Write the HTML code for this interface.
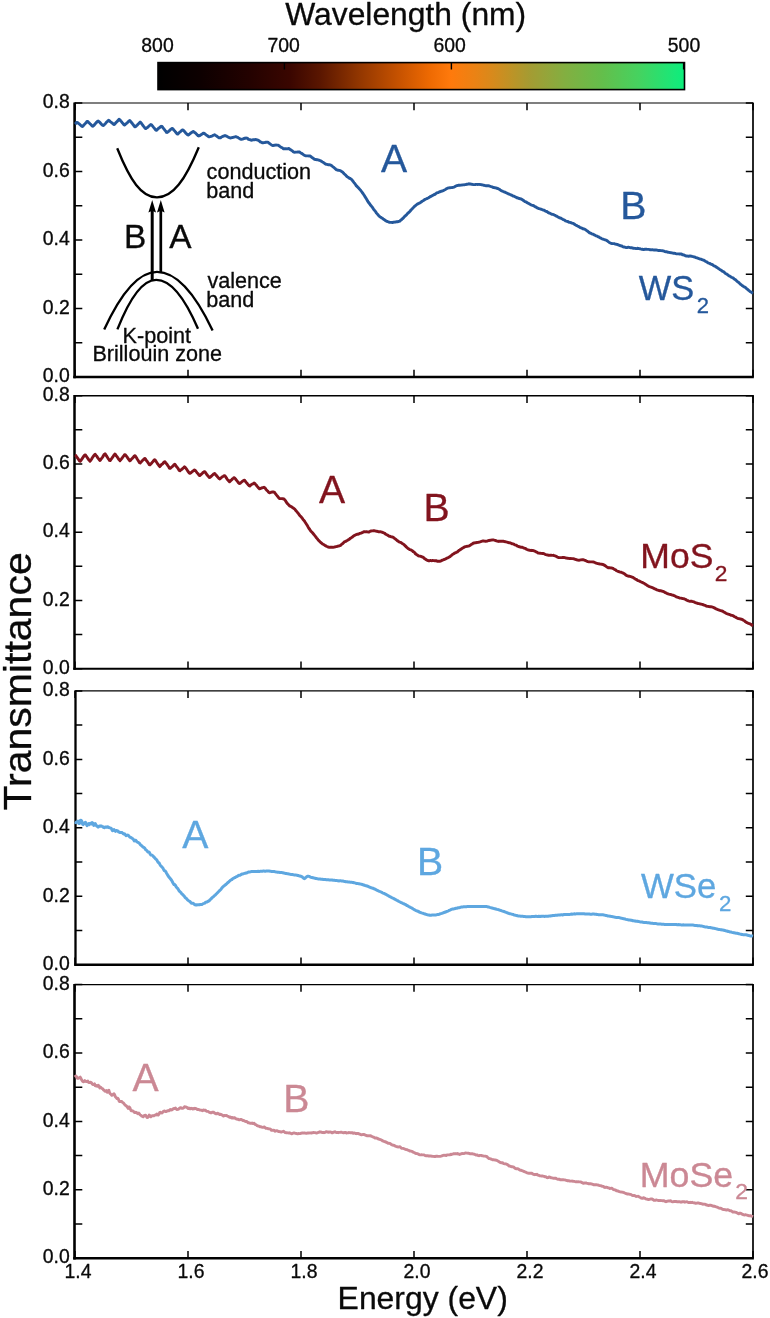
<!DOCTYPE html>
<html lang="en">
<head>
<meta charset="utf-8">
<title>Transmittance spectra of WS2, MoS2, WSe2 and MoSe2</title>
<style>
html,body{margin:0;padding:0;background:#fff;}
body{width:770px;height:1318px;overflow:hidden;font-family:"Liberation Sans", Arial, Helvetica, sans-serif;}
svg{display:block;}
</style>
</head>
<body>
<svg width="770" height="1318" viewBox="0 0 770 1318" font-family='"Liberation Sans", Arial, Helvetica, sans-serif' fill="#0a0a0a">
<style>text{stroke:#0a0a0a;stroke-width:0.32px;stroke-linejoin:round}</style>
<defs><linearGradient id="wl" x1="0" x2="1" y1="0" y2="0">
<stop offset="0.0000" stop-color="#000000"/>
<stop offset="0.0798" stop-color="#0d0000"/>
<stop offset="0.1747" stop-color="#240200"/>
<stop offset="0.2507" stop-color="#3a0600"/>
<stop offset="0.3077" stop-color="#5a1600"/>
<stop offset="0.3837" stop-color="#933700"/>
<stop offset="0.4596" stop-color="#c85300"/>
<stop offset="0.5166" stop-color="#ee6a02"/>
<stop offset="0.5565" stop-color="#ff7a0c"/>
<stop offset="0.6011" stop-color="#eb8214"/>
<stop offset="0.6357" stop-color="#d78a1c"/>
<stop offset="0.6705" stop-color="#be9326"/>
<stop offset="0.7047" stop-color="#a59b32"/>
<stop offset="0.7388" stop-color="#94a53a"/>
<stop offset="0.7740" stop-color="#82af41"/>
<stop offset="0.8429" stop-color="#64be4b"/>
<stop offset="0.9117" stop-color="#46d25f"/>
<stop offset="0.9810" stop-color="#19e878"/>
<stop offset="1.0000" stop-color="#0cee7c"/>
</linearGradient></defs>
<rect width="770" height="1318" fill="#ffffff"/>
<text x="405.7" y="24.6" font-size="31.8" text-anchor="middle">Wavelength (nm)</text>
<rect x="158" y="62.6" width="526.5" height="27" fill="url(#wl)" stroke="#000" stroke-width="1.6"/>
<line x1="159.2" y1="62.6" x2="159.2" y2="69.5" stroke="#000" stroke-width="1.4"/>
<line x1="284.4" y1="62.6" x2="284.4" y2="69.5" stroke="#000" stroke-width="1.4"/>
<line x1="451.4" y1="62.6" x2="451.4" y2="69.5" stroke="#000" stroke-width="1.4"/>
<line x1="683.6" y1="62.6" x2="683.6" y2="69.5" stroke="#000" stroke-width="1.4"/>
<text x="157.5" y="51.8" font-size="19.4" text-anchor="middle">800</text>
<text x="283.6" y="51.8" font-size="19.4" text-anchor="middle">700</text>
<text x="449.6" y="51.8" font-size="19.4" text-anchor="middle">600</text>
<text x="684.0" y="51.8" font-size="19.4" text-anchor="middle">500</text>
<g stroke="#000" fill="none">
<line x1="753.0" y1="103.0" x2="753.0" y2="377.0" stroke-width="1.7"/>
<line x1="74.6" y1="103.0" x2="753.85" y2="103.0" stroke-width="1.15"/>
<line x1="74.6" y1="102.425" x2="74.6" y2="378.15" stroke-width="2.6"/>
<line x1="73.3" y1="377.0" x2="753.85" y2="377.0" stroke-width="2.3"/>
<path d="M74.6,377.0H82.3 M753.0,377.0h-7.2 M74.6,342.8H82.3 M753.0,342.8h-7.2 M74.6,308.5H82.3 M753.0,308.5h-7.2 M74.6,274.2H82.3 M753.0,274.2h-7.2 M74.6,240.0H82.3 M753.0,240.0h-7.2 M74.6,205.8H82.3 M753.0,205.8h-7.2 M74.6,171.5H82.3 M753.0,171.5h-7.2 M74.6,137.2H82.3 M753.0,137.2h-7.2 M74.6,103.0H82.3 M753.0,103.0h-7.2 M75.0,103.0v7.2 M75.0,377.0v-7.2 M188.0,103.0v7.2 M188.0,377.0v-7.2 M301.0,103.0v7.2 M301.0,377.0v-7.2 M414.0,103.0v7.2 M414.0,377.0v-7.2 M527.0,103.0v7.2 M527.0,377.0v-7.2 M640.0,103.0v7.2 M640.0,377.0v-7.2 M753.0,103.0v7.2 M753.0,377.0v-7.2" stroke-width="1.5"/>
</g>
<text x="69.7" y="382.2" font-size="19.4" text-anchor="end">0.0</text>
<text x="69.7" y="313.7" font-size="19.4" text-anchor="end">0.2</text>
<text x="69.7" y="245.2" font-size="19.4" text-anchor="end">0.4</text>
<text x="69.7" y="176.7" font-size="19.4" text-anchor="end">0.6</text>
<text x="69.7" y="108.2" font-size="19.4" text-anchor="end">0.8</text>
<g stroke="#000" fill="none">
<line x1="753.0" y1="395.7" x2="753.0" y2="668.7" stroke-width="1.7"/>
<line x1="74.5" y1="395.7" x2="753.85" y2="395.7" stroke-width="1.6"/>
<line x1="74.5" y1="394.9" x2="74.5" y2="669.6500000000001" stroke-width="2.5"/>
<line x1="73.25" y1="668.7" x2="753.85" y2="668.7" stroke-width="1.9"/>
<path d="M74.5,668.7H82.3 M753.0,668.7h-7.2 M74.5,634.6H82.3 M753.0,634.6h-7.2 M74.5,600.5H82.3 M753.0,600.5h-7.2 M74.5,566.3H82.3 M753.0,566.3h-7.2 M74.5,532.2H82.3 M753.0,532.2h-7.2 M74.5,498.1H82.3 M753.0,498.1h-7.2 M74.5,463.9H82.3 M753.0,463.9h-7.2 M74.5,429.8H82.3 M753.0,429.8h-7.2 M74.5,395.7H82.3 M753.0,395.7h-7.2 M75.0,395.7v7.2 M75.0,668.7v-7.2 M188.0,395.7v7.2 M188.0,668.7v-7.2 M301.0,395.7v7.2 M301.0,668.7v-7.2 M414.0,395.7v7.2 M414.0,668.7v-7.2 M527.0,395.7v7.2 M527.0,668.7v-7.2 M640.0,395.7v7.2 M640.0,668.7v-7.2 M753.0,395.7v7.2 M753.0,668.7v-7.2" stroke-width="1.5"/>
</g>
<text x="69.7" y="673.9" font-size="19.4" text-anchor="end">0.0</text>
<text x="69.7" y="605.7" font-size="19.4" text-anchor="end">0.2</text>
<text x="69.7" y="537.4" font-size="19.4" text-anchor="end">0.4</text>
<text x="69.7" y="469.1" font-size="19.4" text-anchor="end">0.6</text>
<text x="69.7" y="400.9" font-size="19.4" text-anchor="end">0.8</text>
<g stroke="#000" fill="none">
<line x1="753.0" y1="690.9" x2="753.0" y2="964.7" stroke-width="1.7"/>
<line x1="75.5" y1="690.9" x2="753.85" y2="690.9" stroke-width="1.4"/>
<line x1="75.5" y1="690.1999999999999" x2="75.5" y2="965.9000000000001" stroke-width="2.3"/>
<line x1="74.35" y1="964.7" x2="753.85" y2="964.7" stroke-width="2.4"/>
<path d="M75.5,964.7H82.3 M753.0,964.7h-7.2 M75.5,930.5H82.3 M753.0,930.5h-7.2 M75.5,896.2H82.3 M753.0,896.2h-7.2 M75.5,862.0H82.3 M753.0,862.0h-7.2 M75.5,827.8H82.3 M753.0,827.8h-7.2 M75.5,793.6H82.3 M753.0,793.6h-7.2 M75.5,759.4H82.3 M753.0,759.4h-7.2 M75.5,725.1H82.3 M753.0,725.1h-7.2 M75.5,690.9H82.3 M753.0,690.9h-7.2 M75.0,690.9v7.2 M75.0,964.7v-7.2 M188.0,690.9v7.2 M188.0,964.7v-7.2 M301.0,690.9v7.2 M301.0,964.7v-7.2 M414.0,690.9v7.2 M414.0,964.7v-7.2 M527.0,690.9v7.2 M527.0,964.7v-7.2 M640.0,690.9v7.2 M640.0,964.7v-7.2 M753.0,690.9v7.2 M753.0,964.7v-7.2" stroke-width="1.5"/>
</g>
<text x="69.7" y="969.9" font-size="19.4" text-anchor="end">0.0</text>
<text x="69.7" y="901.5" font-size="19.4" text-anchor="end">0.2</text>
<text x="69.7" y="833.0" font-size="19.4" text-anchor="end">0.4</text>
<text x="69.7" y="764.6" font-size="19.4" text-anchor="end">0.6</text>
<text x="69.7" y="696.1" font-size="19.4" text-anchor="end">0.8</text>
<g stroke="#000" fill="none">
<line x1="753.0" y1="984.6" x2="753.0" y2="1258.2" stroke-width="1.7"/>
<line x1="74.5" y1="984.6" x2="753.85" y2="984.6" stroke-width="1.1"/>
<line x1="74.5" y1="984.0500000000001" x2="74.5" y2="1259.4" stroke-width="2.6"/>
<line x1="73.2" y1="1258.2" x2="753.85" y2="1258.2" stroke-width="2.4"/>
<path d="M74.5,1258.2H82.3 M753.0,1258.2h-7.2 M74.5,1224.0H82.3 M753.0,1224.0h-7.2 M74.5,1189.8H82.3 M753.0,1189.8h-7.2 M74.5,1155.6H82.3 M753.0,1155.6h-7.2 M74.5,1121.4H82.3 M753.0,1121.4h-7.2 M74.5,1087.2H82.3 M753.0,1087.2h-7.2 M74.5,1053.0H82.3 M753.0,1053.0h-7.2 M74.5,1018.8H82.3 M753.0,1018.8h-7.2 M74.5,984.6H82.3 M753.0,984.6h-7.2 M75.0,984.6v7.2 M75.0,1258.2v-7.2 M188.0,984.6v7.2 M188.0,1258.2v-7.2 M301.0,984.6v7.2 M301.0,1258.2v-7.2 M414.0,984.6v7.2 M414.0,1258.2v-7.2 M527.0,984.6v7.2 M527.0,1258.2v-7.2 M640.0,984.6v7.2 M640.0,1258.2v-7.2 M753.0,984.6v7.2 M753.0,1258.2v-7.2" stroke-width="1.5"/>
</g>
<text x="69.7" y="1263.4" font-size="19.4" text-anchor="end">0.0</text>
<text x="69.7" y="1195.0" font-size="19.4" text-anchor="end">0.2</text>
<text x="69.7" y="1126.6" font-size="19.4" text-anchor="end">0.4</text>
<text x="69.7" y="1058.2" font-size="19.4" text-anchor="end">0.6</text>
<text x="69.7" y="989.8" font-size="19.4" text-anchor="end">0.8</text>
<text x="78.0" y="1278.2" font-size="19.4" text-anchor="middle">1.4</text>
<text x="191.0" y="1278.2" font-size="19.4" text-anchor="middle">1.6</text>
<text x="304.0" y="1278.2" font-size="19.4" text-anchor="middle">1.8</text>
<text x="417.0" y="1278.2" font-size="19.4" text-anchor="middle">2.0</text>
<text x="530.0" y="1278.2" font-size="19.4" text-anchor="middle">2.2</text>
<text x="643.0" y="1278.2" font-size="19.4" text-anchor="middle">2.4</text>
<text x="755.0" y="1278.2" font-size="19.4" text-anchor="middle">2.6</text>
<text x="422.7" y="1309.4" font-size="31.9" text-anchor="middle">Energy (eV)</text>
<text transform="translate(30.8 681.4) rotate(-90) scale(1.02 0.985)" font-size="40.2" text-anchor="middle">Transmittance</text>
<path d="M75.0,124.1 L75.8,123.4 L76.5,122.4 L77.2,122.4 L78.0,123.0 L78.8,123.6 L79.5,124.2 L80.2,124.8 L81.0,125.5 L81.8,126.4 L82.5,126.5 L83.2,125.7 L84.0,124.9 L84.8,124.0 L85.5,123.3 L86.2,122.5 L87.0,121.5 L87.8,121.4 L88.5,122.3 L89.2,122.9 L90.0,123.8 L90.8,124.4 L91.5,125.2 L92.2,126.1 L93.0,126.2 L93.8,125.5 L94.5,124.6 L95.2,123.9 L96.0,122.9 L96.8,122.1 L97.5,121.3 L98.2,121.0 L99.0,121.7 L99.8,122.4 L100.5,123.1 L101.2,124.0 L102.0,124.6 L102.8,125.4 L103.5,125.5 L104.2,124.8 L105.0,124.0 L105.8,123.1 L106.5,122.1 L107.2,121.6 L108.0,120.8 L108.8,120.3 L109.5,120.9 L110.2,121.6 L111.0,122.2 L111.8,122.8 L112.5,123.3 L113.2,124.1 L114.0,124.6 L114.8,124.0 L115.5,123.1 L116.2,122.4 L117.0,121.7 L117.8,120.8 L118.5,119.8 L119.2,119.2 L120.0,120.0 L120.8,121.0 L121.5,121.7 L122.2,122.7 L123.0,123.5 L123.8,124.5 L124.5,125.0 L125.2,124.5 L126.0,123.8 L126.8,123.2 L127.5,122.5 L128.2,121.7 L129.0,121.1 L129.8,120.6 L130.5,121.3 L131.2,122.3 L132.0,123.1 L132.8,124.2 L133.5,125.0 L134.2,126.1 L135.0,126.8 L135.8,126.5 L136.5,125.7 L137.2,125.1 L138.0,124.3 L138.8,123.5 L139.5,122.8 L140.2,122.1 L141.0,122.7 L141.8,123.9 L142.5,124.8 L143.2,125.9 L144.0,126.8 L144.8,127.8 L145.5,128.6 L146.2,128.3 L147.0,127.7 L147.8,127.2 L148.5,126.5 L149.2,125.8 L150.0,125.2 L150.8,124.5 L151.5,124.8 L152.2,125.6 L153.0,126.6 L153.8,127.6 L154.5,128.4 L155.2,129.4 L156.0,130.2 L156.8,130.2 L157.5,129.3 L158.2,128.7 L159.0,127.9 L159.8,127.4 L160.5,126.7 L161.2,126.3 L162.0,126.5 L162.8,127.5 L163.5,128.5 L164.2,129.2 L165.0,130.4 L165.8,131.3 L166.5,132.4 L167.2,132.5 L168.0,131.8 L168.8,131.3 L169.5,130.6 L170.2,129.8 L171.0,129.3 L171.8,128.5 L172.5,128.5 L173.2,129.3 L174.0,130.2 L174.8,131.0 L175.5,132.0 L176.2,132.8 L177.0,133.8 L177.8,134.1 L178.5,133.3 L179.2,132.7 L180.0,132.0 L180.8,131.3 L181.5,130.7 L182.2,129.9 L183.0,130.0 L183.8,130.7 L184.5,131.5 L185.2,132.3 L186.0,133.4 L186.8,134.0 L187.5,134.7 L188.2,135.1 L189.0,134.5 L189.8,133.9 L190.5,133.2 L191.2,132.7 L192.0,132.2 L192.8,131.7 L193.5,131.5 L194.2,132.1 L195.0,132.8 L195.8,133.3 L196.5,134.2 L197.2,134.8 L198.0,135.6 L198.8,136.0 L199.5,135.7 L200.2,135.2 L201.0,134.7 L201.8,134.2 L202.5,133.8 L203.2,133.3 L204.0,133.2 L204.8,133.7 L205.5,134.4 L206.2,134.9 L207.0,135.4 L207.8,136.0 L208.5,136.6 L209.2,136.9 L210.0,136.7 L210.8,136.4 L211.5,136.3 L212.2,135.9 L213.0,135.4 L213.8,135.2 L214.5,134.8 L215.2,135.1 L216.0,135.7 L216.8,136.1 L217.5,136.8 L218.2,137.2 L219.0,137.7 L219.8,137.8 L220.5,137.7 L221.2,137.2 L222.0,136.8 L222.8,136.4 L223.5,136.1 L224.2,135.8 L225.0,135.5 L225.8,135.8 L226.5,136.2 L227.2,136.5 L228.0,137.0 L228.8,137.4 L229.5,137.7 L230.2,138.0 L231.0,137.9 L231.8,137.6 L232.5,137.5 L233.2,137.4 L234.0,137.1 L234.8,136.9 L235.5,136.7 L236.2,136.7 L237.0,137.1 L237.8,137.4 L238.5,137.9 L239.2,138.3 L240.0,138.9 L240.8,139.3 L241.5,139.4 L242.2,139.2 L243.0,139.0 L243.8,138.7 L244.5,138.2 L245.2,138.3 L246.0,138.0 L246.8,138.1 L247.5,138.4 L248.2,139.1 L249.0,139.5 L249.8,139.6 L250.5,139.9 L251.2,140.2 L252.0,140.1 L252.8,139.7 L253.5,139.7 L254.2,139.8 L255.0,139.6 L255.8,139.5 L256.5,139.8 L257.2,139.9 L258.0,140.2 L258.8,140.6 L259.5,141.2 L260.2,141.8 L261.0,142.1 L261.8,142.6 L262.5,142.8 L263.2,142.7 L264.0,142.6 L264.8,142.5 L265.5,142.3 L266.2,142.2 L267.0,142.1 L267.8,142.1 L268.5,142.7 L269.2,143.2 L270.0,143.8 L270.8,144.4 L271.5,144.9 L272.2,145.3 L273.0,145.5 L273.8,145.3 L274.5,145.3 L275.2,145.1 L276.0,145.0 L276.8,145.1 L277.5,145.1 L278.2,145.2 L279.0,145.7 L279.8,146.4 L280.5,146.9 L281.2,147.4 L282.0,147.6 L282.8,148.2 L283.5,148.7 L284.2,148.7 L285.0,148.8 L285.8,148.8 L286.5,148.9 L287.2,148.8 L288.0,148.6 L288.8,148.5 L289.5,149.0 L290.2,149.6 L291.0,150.1 L291.8,150.6 L292.5,151.0 L293.2,151.7 L294.0,152.1 L294.8,152.2 L295.5,152.1 L296.2,152.1 L297.0,152.1 L297.8,152.0 L298.5,151.9 L299.2,151.9 L300.0,152.3 L300.8,153.0 L301.5,153.3 L302.2,153.8 L303.0,154.3 L303.8,154.9 L304.5,155.4 L305.2,155.6 L306.0,155.9 L306.8,155.9 L307.5,155.9 L308.2,155.9 L309.0,156.0 L309.8,155.9 L310.5,156.1 L311.2,156.9 L312.0,157.5 L312.8,158.0 L313.5,158.5 L314.2,159.1 L315.0,159.5 L315.8,159.5 L316.5,159.7 L317.2,159.7 L318.0,159.9 L318.8,160.1 L319.5,160.4 L320.2,160.6 L321.0,161.0 L321.8,161.6 L322.5,162.0 L323.2,162.3 L324.0,162.9 L324.8,163.5 L325.5,164.0 L326.2,164.3 L327.0,164.4 L327.8,164.6 L328.5,164.8 L329.2,164.8 L330.0,164.9 L330.8,165.2 L331.5,165.6 L332.2,166.2 L333.0,166.8 L333.8,167.4 L334.5,168.0 L335.2,168.7 L336.0,169.4 L336.8,169.9 L337.5,170.0 L338.2,170.3 L339.0,170.4 L339.8,170.4 L340.5,170.8 L341.2,171.2 L342.0,171.8 L342.8,172.3 L343.5,173.1 L344.2,173.8 L345.0,174.5 L345.8,175.3 L346.5,176.1 L347.2,176.8 L348.0,177.2 L348.8,177.8 L349.5,178.3 L350.2,178.5 L351.0,179.1 L351.8,179.7 L352.5,180.6 L353.2,181.5 L354.0,182.6 L354.8,183.5 L355.5,184.5 L356.2,185.6 L357.0,186.4 L357.8,187.2 L358.5,187.9 L359.2,188.7 L360.0,189.6 L360.8,190.5 L361.5,191.5 L362.2,192.5 L363.0,193.5 L363.8,194.7 L364.5,195.8 L365.2,197.1 L366.0,198.2 L366.8,199.5 L367.5,200.9 L368.2,202.0 L369.0,203.0 L369.8,204.0 L370.5,205.1 L371.2,205.8 L372.0,206.8 L372.8,207.9 L373.5,209.1 L374.2,210.0 L375.0,210.9 L375.8,212.0 L376.5,213.1 L377.2,213.9 L378.0,214.8 L378.8,215.7 L379.5,216.4 L380.2,217.0 L381.0,217.4 L381.8,218.0 L382.5,218.3 L383.2,219.0 L384.0,219.5 L384.8,220.0 L385.5,220.6 L386.2,220.9 L387.0,221.4 L387.8,221.7 L388.5,221.9 L389.2,222.3 L390.0,222.4 L390.8,222.4 L391.5,222.4 L392.2,222.5 L393.0,222.3 L393.8,222.2 L394.5,222.1 L395.2,222.0 L396.0,222.0 L396.8,221.7 L397.5,221.8 L398.2,221.5 L399.0,221.3 L399.8,221.1 L400.5,220.4 L401.2,219.9 L402.0,219.1 L402.8,218.6 L403.5,217.8 L404.2,216.9 L405.0,216.2 L405.8,215.4 L406.5,214.8 L407.2,213.9 L408.0,213.2 L408.8,212.4 L409.5,211.8 L410.2,211.0 L411.0,210.0 L411.8,209.2 L412.5,208.5 L413.2,207.8 L414.0,206.9 L414.8,206.2 L415.5,205.6 L416.2,205.0 L417.0,204.3 L417.8,203.9 L418.5,203.6 L419.2,203.1 L420.0,202.8 L420.8,202.3 L421.5,201.8 L422.2,201.2 L423.0,200.8 L423.8,200.3 L424.5,199.8 L425.2,199.3 L426.0,199.0 L426.8,198.7 L427.5,198.3 L428.2,197.9 L429.0,197.4 L429.8,197.0 L430.5,196.5 L431.2,196.3 L432.0,195.8 L432.8,195.4 L433.5,194.9 L434.2,194.5 L435.0,194.3 L435.8,193.6 L436.5,193.1 L437.2,192.7 L438.0,192.6 L438.8,192.2 L439.5,191.8 L440.2,191.7 L441.0,191.3 L441.8,191.2 L442.5,190.9 L443.2,190.6 L444.0,190.2 L444.8,189.8 L445.5,189.4 L446.2,188.9 L447.0,188.5 L447.8,188.1 L448.5,187.9 L449.2,187.9 L450.0,187.7 L450.8,187.6 L451.5,187.6 L452.2,187.5 L453.0,187.4 L453.8,187.1 L454.5,186.8 L455.2,186.4 L456.0,186.0 L456.8,185.6 L457.5,185.5 L458.2,185.3 L459.0,185.3 L459.8,185.3 L460.5,185.1 L461.2,185.1 L462.0,185.0 L462.8,184.9 L463.5,184.9 L464.2,184.8 L465.0,184.6 L465.8,184.5 L466.5,184.3 L467.2,184.2 L468.0,184.1 L468.8,183.8 L469.5,183.9 L470.2,184.0 L471.0,184.2 L471.8,184.3 L472.5,184.4 L473.2,184.6 L474.0,184.6 L474.8,184.6 L475.5,184.5 L476.2,184.4 L477.0,184.4 L477.8,184.5 L478.5,184.4 L479.2,184.4 L480.0,184.5 L480.8,184.6 L481.5,184.7 L482.2,184.9 L483.0,185.0 L483.8,185.3 L484.5,185.4 L485.2,185.6 L486.0,185.7 L486.8,185.7 L487.5,185.8 L488.2,185.7 L489.0,185.9 L489.8,186.2 L490.5,186.4 L491.2,186.6 L492.0,186.8 L492.8,187.3 L493.5,187.5 L494.2,187.5 L495.0,187.8 L495.8,187.9 L496.5,188.2 L497.2,188.3 L498.0,188.6 L498.8,189.1 L499.5,189.3 L500.2,189.9 L501.0,190.5 L501.8,190.9 L502.5,191.2 L503.2,191.5 L504.0,191.8 L504.8,192.1 L505.5,192.4 L506.2,192.8 L507.0,193.2 L507.8,193.5 L508.5,193.9 L509.2,194.2 L510.0,194.5 L510.8,194.8 L511.5,195.1 L512.2,195.5 L513.0,196.0 L513.8,196.2 L514.5,196.5 L515.2,196.8 L516.0,197.2 L516.8,197.7 L517.5,197.8 L518.2,198.1 L519.0,198.5 L519.8,198.7 L520.5,198.8 L521.2,199.0 L522.0,199.5 L522.8,200.0 L523.5,200.5 L524.2,201.0 L525.0,201.7 L525.8,201.9 L526.5,202.2 L527.2,202.7 L528.0,203.1 L528.8,203.5 L529.5,203.9 L530.2,204.4 L531.0,204.8 L531.8,205.1 L532.5,205.3 L533.2,205.5 L534.0,205.9 L534.8,206.5 L535.5,206.9 L536.2,207.2 L537.0,207.7 L537.8,208.2 L538.5,208.5 L539.2,208.7 L540.0,208.9 L540.8,209.1 L541.5,209.4 L542.2,209.6 L543.0,210.0 L543.8,210.1 L544.5,210.5 L545.2,211.0 L546.0,211.3 L546.8,211.5 L547.5,212.0 L548.2,212.6 L549.0,213.0 L549.8,213.2 L550.5,213.6 L551.2,214.0 L552.0,214.3 L552.8,214.4 L553.5,214.6 L554.2,215.0 L555.0,215.3 L555.8,215.8 L556.5,216.1 L557.2,216.5 L558.0,217.0 L558.8,217.4 L559.5,217.9 L560.2,218.0 L561.0,218.2 L561.8,218.7 L562.5,219.1 L563.2,219.6 L564.0,219.8 L564.8,220.2 L565.5,220.9 L566.2,221.1 L567.0,221.3 L567.8,221.5 L568.5,222.0 L569.2,222.3 L570.0,222.4 L570.8,222.6 L571.5,223.0 L572.2,223.2 L573.0,223.4 L573.8,223.8 L574.5,224.3 L575.2,224.8 L576.0,225.2 L576.8,225.6 L577.5,226.0 L578.2,226.3 L579.0,226.8 L579.8,227.3 L580.5,227.6 L581.2,227.9 L582.0,228.2 L582.8,228.7 L583.5,228.8 L584.2,229.0 L585.0,229.3 L585.8,229.9 L586.5,230.5 L587.2,230.9 L588.0,231.5 L588.8,232.3 L589.5,232.8 L590.2,233.0 L591.0,233.4 L591.8,233.8 L592.5,234.1 L593.2,234.2 L594.0,234.7 L594.8,235.2 L595.5,235.5 L596.2,235.9 L597.0,236.1 L597.8,236.6 L598.5,236.9 L599.2,237.2 L600.0,237.7 L600.8,238.1 L601.5,238.5 L602.2,238.8 L603.0,239.1 L603.8,239.4 L604.5,239.6 L605.2,239.9 L606.0,240.1 L606.8,240.5 L607.5,241.0 L608.2,241.6 L609.0,242.2 L609.8,242.7 L610.5,243.1 L611.2,243.3 L612.0,243.5 L612.8,243.6 L613.5,243.6 L614.2,243.6 L615.0,244.0 L615.8,244.1 L616.5,244.4 L617.2,244.5 L618.0,244.7 L618.8,245.2 L619.5,245.4 L620.2,245.7 L621.0,245.8 L621.8,246.0 L622.5,246.5 L623.2,246.8 L624.0,247.0 L624.8,247.2 L625.5,247.4 L626.2,247.6 L627.0,247.5 L627.8,247.3 L628.5,247.3 L629.2,247.4 L630.0,247.6 L630.8,247.7 L631.5,247.7 L632.2,247.9 L633.0,248.3 L633.8,248.3 L634.5,248.4 L635.2,248.4 L636.0,248.6 L636.8,248.6 L637.5,248.3 L638.2,248.4 L639.0,248.6 L639.8,248.7 L640.5,248.9 L641.2,249.1 L642.0,249.3 L642.8,249.3 L643.5,249.6 L644.2,249.5 L645.0,249.2 L645.8,249.3 L646.5,249.3 L647.2,249.4 L648.0,249.4 L648.8,249.4 L649.5,249.6 L650.2,249.8 L651.0,249.8 L651.8,249.9 L652.5,249.8 L653.2,249.9 L654.0,250.0 L654.8,250.0 L655.5,250.0 L656.2,250.0 L657.0,250.1 L657.8,250.4 L658.5,250.5 L659.2,250.5 L660.0,250.5 L660.8,250.6 L661.5,250.6 L662.2,250.7 L663.0,250.9 L663.8,251.0 L664.5,251.3 L665.2,251.6 L666.0,251.8 L666.8,251.8 L667.5,252.0 L668.2,252.3 L669.0,252.4 L669.8,252.5 L670.5,252.6 L671.2,252.8 L672.0,252.9 L672.8,253.1 L673.5,253.2 L674.2,253.3 L675.0,253.4 L675.8,253.7 L676.5,253.9 L677.2,253.9 L678.0,253.9 L678.8,253.9 L679.5,254.1 L680.2,253.9 L681.0,254.0 L681.8,254.2 L682.5,254.7 L683.2,254.8 L684.0,255.0 L684.8,255.4 L685.5,255.9 L686.2,256.0 L687.0,256.0 L687.8,256.1 L688.5,256.3 L689.2,256.2 L690.0,256.0 L690.8,256.2 L691.5,256.2 L692.2,256.4 L693.0,256.6 L693.8,256.8 L694.5,257.0 L695.2,257.2 L696.0,257.6 L696.8,257.9 L697.5,258.0 L698.2,258.3 L699.0,258.7 L699.8,259.0 L700.5,259.1 L701.2,259.2 L702.0,259.7 L702.8,260.0 L703.5,260.1 L704.2,260.4 L705.0,260.9 L705.8,261.4 L706.5,261.8 L707.2,262.3 L708.0,262.8 L708.8,263.1 L709.5,263.3 L710.2,263.8 L711.0,264.1 L711.8,264.5 L712.5,264.7 L713.2,265.3 L714.0,265.9 L714.8,266.2 L715.5,266.5 L716.2,267.0 L717.0,267.6 L717.8,268.1 L718.5,268.6 L719.2,269.0 L720.0,269.7 L720.8,270.0 L721.5,270.5 L722.2,271.1 L723.0,271.5 L723.8,271.9 L724.5,272.5 L725.2,273.3 L726.0,273.7 L726.8,274.1 L727.5,274.6 L728.2,275.3 L729.0,275.8 L729.8,276.1 L730.5,276.6 L731.2,277.1 L732.0,277.5 L732.8,277.8 L733.5,278.3 L734.2,278.9 L735.0,279.4 L735.8,280.0 L736.5,280.7 L737.2,281.4 L738.0,282.0 L738.8,282.5 L739.5,283.3 L740.2,284.0 L741.0,284.6 L741.8,285.2 L742.5,285.7 L743.2,286.3 L744.0,286.7 L744.8,287.2 L745.5,287.5 L746.2,288.3 L747.0,288.9 L747.8,289.6 L748.5,290.3 L749.2,290.7 L750.0,291.5 L750.8,291.9 L751.5,292.4 L752.2,292.9 L753.0,293.3" fill="none" stroke="#25589b" stroke-width="2.9" stroke-linejoin="round" stroke-linecap="butt"/>
<path d="M75.0,454.9 L75.8,455.4 L76.5,456.6 L77.2,457.6 L78.0,458.7 L78.8,459.8 L79.5,460.9 L80.2,461.3 L81.0,460.3 L81.8,459.2 L82.5,458.1 L83.2,457.0 L84.0,456.0 L84.8,455.0 L85.5,455.0 L86.2,456.2 L87.0,457.2 L87.8,458.4 L88.5,459.5 L89.2,460.3 L90.0,461.1 L90.8,460.3 L91.5,459.2 L92.2,458.0 L93.0,456.7 L93.8,455.8 L94.5,454.7 L95.2,454.3 L96.0,455.4 L96.8,456.3 L97.5,457.4 L98.2,458.4 L99.0,459.4 L99.8,460.5 L100.5,460.0 L101.2,459.0 L102.0,457.9 L102.8,456.8 L103.5,455.5 L104.2,454.4 L105.0,453.8 L105.8,454.7 L106.5,455.9 L107.2,457.0 L108.0,458.3 L108.8,459.3 L109.5,460.4 L110.2,460.6 L111.0,459.5 L111.8,458.4 L112.5,457.3 L113.2,456.3 L114.0,455.1 L114.8,454.1 L115.5,454.5 L116.2,455.7 L117.0,456.6 L117.8,457.8 L118.5,458.8 L119.2,459.8 L120.0,460.6 L120.8,459.7 L121.5,458.9 L122.2,458.0 L123.0,456.8 L123.8,455.9 L124.5,454.7 L125.2,454.7 L126.0,455.7 L126.8,456.7 L127.5,457.7 L128.2,458.8 L129.0,459.7 L129.8,460.8 L130.5,460.3 L131.2,459.3 L132.0,458.7 L132.8,457.8 L133.5,457.1 L134.2,456.0 L135.0,455.7 L135.8,456.7 L136.5,457.8 L137.2,459.0 L138.0,460.2 L138.8,461.5 L139.5,462.7 L140.2,463.0 L141.0,462.1 L141.8,461.2 L142.5,460.5 L143.2,459.8 L144.0,459.1 L144.8,458.4 L145.5,459.1 L146.2,460.3 L147.0,461.2 L147.8,462.3 L148.5,463.3 L149.2,464.6 L150.0,464.9 L150.8,464.0 L151.5,463.3 L152.2,462.4 L153.0,461.5 L153.8,460.5 L154.5,459.7 L155.2,460.1 L156.0,461.4 L156.8,462.5 L157.5,463.6 L158.2,464.5 L159.0,465.7 L159.8,466.6 L160.5,465.8 L161.2,464.8 L162.0,464.3 L162.8,463.6 L163.5,462.9 L164.2,461.9 L165.0,461.8 L165.8,462.9 L166.5,463.7 L167.2,464.7 L168.0,465.8 L168.8,467.0 L169.5,468.4 L170.2,468.4 L171.0,467.7 L171.8,467.0 L172.5,466.4 L173.2,465.7 L174.0,464.7 L174.8,464.2 L175.5,465.1 L176.2,466.3 L177.0,467.1 L177.8,468.1 L178.5,469.2 L179.2,470.4 L180.0,470.8 L180.8,469.9 L181.5,469.5 L182.2,469.0 L183.0,468.2 L183.8,467.5 L184.5,466.8 L185.2,467.4 L186.0,468.5 L186.8,469.4 L187.5,470.6 L188.2,471.6 L189.0,472.8 L189.8,473.4 L190.5,473.0 L191.2,472.5 L192.0,471.8 L192.8,471.1 L193.5,470.7 L194.2,470.0 L195.0,470.1 L195.8,471.0 L196.5,472.0 L197.2,473.0 L198.0,473.7 L198.8,474.8 L199.5,475.6 L200.2,475.3 L201.0,474.5 L201.8,473.9 L202.5,473.1 L203.2,472.4 L204.0,471.8 L204.8,471.7 L205.5,472.7 L206.2,473.7 L207.0,474.8 L207.8,475.7 L208.5,476.5 L209.2,477.5 L210.0,477.4 L210.8,476.7 L211.5,476.1 L212.2,475.3 L213.0,474.7 L213.8,473.9 L214.5,473.5 L215.2,474.0 L216.0,475.1 L216.8,475.9 L217.5,476.8 L218.2,477.6 L219.0,478.5 L219.8,478.9 L220.5,478.2 L221.2,477.7 L222.0,477.1 L222.8,476.5 L223.5,476.2 L224.2,475.6 L225.0,475.9 L225.8,477.0 L226.5,478.1 L227.2,479.3 L228.0,480.0 L228.8,481.0 L229.5,481.8 L230.2,481.2 L231.0,480.3 L231.8,479.6 L232.5,478.9 L233.2,478.4 L234.0,477.7 L234.8,478.0 L235.5,479.0 L236.2,479.9 L237.0,480.9 L237.8,481.8 L238.5,482.8 L239.2,483.5 L240.0,483.4 L240.8,482.6 L241.5,482.1 L242.2,481.5 L243.0,480.9 L243.8,480.3 L244.5,480.1 L245.2,481.1 L246.0,482.2 L246.8,483.0 L247.5,483.9 L248.2,484.7 L249.0,485.6 L249.8,486.0 L250.5,485.2 L251.2,484.7 L252.0,484.3 L252.8,483.9 L253.5,483.5 L254.2,483.0 L255.0,483.7 L255.8,484.7 L256.5,485.4 L257.2,486.4 L258.0,487.3 L258.8,488.2 L259.5,488.8 L260.2,488.5 L261.0,488.3 L261.8,487.9 L262.5,487.7 L263.2,487.6 L264.0,487.3 L264.8,487.7 L265.5,488.6 L266.2,489.6 L267.0,490.5 L267.8,491.2 L268.5,492.1 L269.2,492.7 L270.0,492.7 L270.8,492.4 L271.5,492.1 L272.2,492.0 L273.0,492.0 L273.8,492.0 L274.5,492.3 L275.2,493.4 L276.0,494.4 L276.8,495.4 L277.5,496.2 L278.2,497.1 L279.0,498.2 L279.8,498.6 L280.5,498.6 L281.2,498.6 L282.0,498.6 L282.8,498.7 L283.5,498.9 L284.2,499.2 L285.0,500.1 L285.8,501.2 L286.5,502.4 L287.2,503.4 L288.0,504.1 L288.8,505.0 L289.5,505.8 L290.2,506.1 L291.0,506.5 L291.8,507.0 L292.5,507.5 L293.2,508.1 L294.0,508.6 L294.8,509.2 L295.5,510.1 L296.2,511.0 L297.0,511.8 L297.8,512.8 L298.5,513.7 L299.2,514.8 L300.0,515.7 L300.8,516.5 L301.5,517.3 L302.2,518.2 L303.0,519.3 L303.8,520.3 L304.5,521.1 L305.2,522.3 L306.0,523.5 L306.8,524.7 L307.5,525.8 L308.2,527.2 L309.0,528.5 L309.8,529.5 L310.5,530.6 L311.2,531.5 L312.0,532.3 L312.8,533.1 L313.5,534.0 L314.2,534.9 L315.0,535.8 L315.8,536.8 L316.5,537.8 L317.2,538.7 L318.0,539.7 L318.8,540.6 L319.5,541.3 L320.2,542.0 L321.0,542.8 L321.8,543.3 L322.5,543.9 L323.2,544.3 L324.0,544.7 L324.8,545.3 L325.5,545.6 L326.2,546.2 L327.0,546.5 L327.8,546.8 L328.5,547.1 L329.2,547.3 L330.0,547.3 L330.8,547.3 L331.5,547.2 L332.2,547.3 L333.0,547.4 L333.8,547.2 L334.5,547.0 L335.2,546.8 L336.0,546.6 L336.8,546.6 L337.5,546.2 L338.2,546.1 L339.0,546.0 L339.8,545.7 L340.5,545.4 L341.2,544.7 L342.0,544.1 L342.8,543.5 L343.5,542.8 L344.2,542.1 L345.0,541.6 L345.8,541.4 L346.5,540.8 L347.2,540.4 L348.0,539.9 L348.8,539.6 L349.5,539.1 L350.2,538.4 L351.0,538.0 L351.8,537.3 L352.5,536.9 L353.2,536.2 L354.0,535.7 L354.8,535.4 L355.5,534.9 L356.2,534.7 L357.0,534.3 L357.8,534.3 L358.5,534.0 L359.2,533.8 L360.0,533.4 L360.8,533.2 L361.5,533.0 L362.2,532.6 L363.0,532.2 L363.8,531.7 L364.5,531.8 L365.2,531.9 L366.0,531.8 L366.8,531.8 L367.5,531.9 L368.2,532.0 L369.0,532.0 L369.8,531.5 L370.5,531.2 L371.2,531.0 L372.0,530.9 L372.8,530.9 L373.5,530.7 L374.2,530.8 L375.0,530.9 L375.8,531.1 L376.5,531.2 L377.2,531.3 L378.0,531.5 L378.8,531.8 L379.5,531.9 L380.2,531.8 L381.0,531.9 L381.8,532.1 L382.5,532.4 L383.2,532.7 L384.0,533.0 L384.8,533.4 L385.5,534.1 L386.2,534.5 L387.0,534.8 L387.8,535.3 L388.5,535.8 L389.2,536.2 L390.0,536.2 L390.8,536.6 L391.5,536.9 L392.2,537.0 L393.0,537.2 L393.8,537.7 L394.5,538.4 L395.2,538.9 L396.0,539.5 L396.8,540.2 L397.5,540.7 L398.2,541.2 L399.0,541.8 L399.8,542.1 L400.5,542.3 L401.2,542.7 L402.0,543.3 L402.8,543.9 L403.5,544.1 L404.2,544.9 L405.0,545.6 L405.8,546.4 L406.5,547.1 L407.2,547.7 L408.0,548.5 L408.8,548.9 L409.5,549.5 L410.2,549.7 L411.0,549.9 L411.8,550.4 L412.5,550.9 L413.2,551.6 L414.0,552.0 L414.8,552.8 L415.5,553.8 L416.2,554.3 L417.0,554.9 L417.8,555.3 L418.5,555.9 L419.2,556.1 L420.0,556.1 L420.8,556.3 L421.5,556.6 L422.2,557.0 L423.0,557.2 L423.8,557.9 L424.5,558.6 L425.2,559.0 L426.0,559.6 L426.8,560.0 L427.5,560.4 L428.2,560.7 L429.0,560.7 L429.8,560.7 L430.5,560.5 L431.2,560.6 L432.0,560.7 L432.8,560.5 L433.5,560.6 L434.2,560.6 L435.0,560.8 L435.8,560.7 L436.5,560.8 L437.2,561.2 L438.0,561.3 L438.8,561.3 L439.5,561.3 L440.2,561.2 L441.0,560.9 L441.8,560.4 L442.5,560.1 L443.2,559.9 L444.0,559.5 L444.8,559.3 L445.5,558.9 L446.2,558.6 L447.0,558.1 L447.8,557.8 L448.5,557.4 L449.2,557.0 L450.0,556.6 L450.8,555.9 L451.5,555.4 L452.2,554.7 L453.0,554.1 L453.8,553.7 L454.5,553.2 L455.2,552.9 L456.0,552.6 L456.8,552.1 L457.5,551.8 L458.2,551.2 L459.0,550.4 L459.8,550.0 L460.5,549.5 L461.2,549.0 L462.0,548.4 L462.8,547.9 L463.5,547.7 L464.2,547.1 L465.0,546.7 L465.8,546.6 L466.5,546.4 L467.2,546.3 L468.0,546.1 L468.8,546.1 L469.5,545.7 L470.2,545.3 L471.0,544.7 L471.8,544.1 L472.5,543.8 L473.2,543.2 L474.0,543.0 L474.8,542.8 L475.5,542.8 L476.2,542.7 L477.0,542.5 L477.8,542.4 L478.5,542.3 L479.2,542.1 L480.0,541.9 L480.8,541.6 L481.5,541.4 L482.2,541.2 L483.0,541.0 L483.8,541.0 L484.5,541.1 L485.2,541.2 L486.0,541.2 L486.8,541.1 L487.5,541.0 L488.2,540.7 L489.0,540.5 L489.8,540.3 L490.5,540.2 L491.2,540.1 L492.0,540.0 L492.8,539.9 L493.5,539.9 L494.2,540.1 L495.0,540.3 L495.8,540.6 L496.5,540.9 L497.2,541.1 L498.0,541.2 L498.8,541.5 L499.5,541.2 L500.2,541.2 L501.0,541.2 L501.8,541.3 L502.5,541.3 L503.2,541.2 L504.0,541.5 L504.8,541.7 L505.5,541.7 L506.2,541.9 L507.0,542.1 L507.8,542.3 L508.5,542.6 L509.2,542.8 L510.0,542.8 L510.8,543.2 L511.5,543.5 L512.2,543.8 L513.0,543.9 L513.8,544.1 L514.5,544.7 L515.2,545.0 L516.0,545.1 L516.8,545.5 L517.5,546.2 L518.2,546.4 L519.0,546.7 L519.8,546.8 L520.5,547.1 L521.2,547.3 L522.0,547.2 L522.8,547.5 L523.5,547.8 L524.2,548.1 L525.0,548.4 L525.8,548.7 L526.5,549.2 L527.2,549.6 L528.0,549.8 L528.8,550.1 L529.5,550.2 L530.2,550.4 L531.0,550.5 L531.8,550.3 L532.5,550.5 L533.2,550.5 L534.0,550.8 L534.8,551.2 L535.5,551.5 L536.2,551.9 L537.0,552.3 L537.8,552.8 L538.5,553.1 L539.2,553.1 L540.0,553.2 L540.8,553.4 L541.5,553.4 L542.2,553.5 L543.0,553.5 L543.8,553.7 L544.5,554.0 L545.2,554.3 L546.0,554.6 L546.8,554.8 L547.5,555.0 L548.2,555.2 L549.0,555.3 L549.8,555.4 L550.5,555.3 L551.2,555.3 L552.0,555.4 L552.8,555.4 L553.5,555.3 L554.2,555.6 L555.0,555.8 L555.8,556.2 L556.5,556.5 L557.2,557.0 L558.0,557.3 L558.8,557.5 L559.5,557.6 L560.2,557.6 L561.0,557.6 L561.8,557.6 L562.5,557.5 L563.2,557.4 L564.0,557.5 L564.8,557.6 L565.5,557.8 L566.2,558.0 L567.0,558.2 L567.8,558.3 L568.5,558.4 L569.2,558.5 L570.0,558.6 L570.8,558.5 L571.5,558.6 L572.2,558.6 L573.0,558.6 L573.8,558.9 L574.5,559.0 L575.2,559.3 L576.0,559.5 L576.8,559.8 L577.5,560.0 L578.2,560.1 L579.0,560.2 L579.8,560.1 L580.5,559.9 L581.2,559.9 L582.0,559.8 L582.8,559.7 L583.5,559.7 L584.2,560.1 L585.0,560.4 L585.8,560.7 L586.5,561.1 L587.2,561.3 L588.0,561.6 L588.8,561.8 L589.5,561.9 L590.2,561.9 L591.0,561.9 L591.8,561.9 L592.5,561.9 L593.2,562.0 L594.0,562.2 L594.8,562.5 L595.5,562.8 L596.2,563.2 L597.0,563.4 L597.8,563.6 L598.5,563.7 L599.2,563.8 L600.0,564.0 L600.8,564.1 L601.5,564.2 L602.2,564.3 L603.0,564.5 L603.8,565.0 L604.5,565.2 L605.2,565.8 L606.0,566.3 L606.8,566.9 L607.5,567.3 L608.2,567.7 L609.0,567.7 L609.8,567.8 L610.5,567.9 L611.2,568.0 L612.0,568.0 L612.8,568.3 L613.5,568.8 L614.2,569.2 L615.0,569.6 L615.8,570.1 L616.5,570.7 L617.2,571.0 L618.0,571.3 L618.8,571.6 L619.5,571.9 L620.2,572.1 L621.0,572.2 L621.8,572.5 L622.5,572.8 L623.2,573.2 L624.0,573.5 L624.8,574.1 L625.5,574.7 L626.2,575.2 L627.0,575.7 L627.8,576.0 L628.5,576.2 L629.2,576.2 L630.0,576.4 L630.8,576.6 L631.5,576.8 L632.2,577.1 L633.0,577.4 L633.8,578.0 L634.5,578.4 L635.2,578.9 L636.0,579.4 L636.8,579.7 L637.5,580.3 L638.2,580.6 L639.0,580.9 L639.8,581.3 L640.5,581.7 L641.2,582.0 L642.0,582.3 L642.8,582.6 L643.5,583.1 L644.2,583.3 L645.0,583.9 L645.8,584.4 L646.5,584.9 L647.2,585.5 L648.0,585.9 L648.8,586.3 L649.5,586.6 L650.2,586.8 L651.0,587.2 L651.8,587.5 L652.5,587.6 L653.2,588.1 L654.0,588.4 L654.8,588.9 L655.5,589.1 L656.2,589.4 L657.0,589.9 L657.8,590.1 L658.5,590.3 L659.2,590.5 L660.0,590.8 L660.8,590.8 L661.5,590.9 L662.2,591.3 L663.0,591.4 L663.8,591.8 L664.5,592.0 L665.2,592.6 L666.0,592.9 L666.8,593.3 L667.5,593.6 L668.2,593.9 L669.0,594.2 L669.8,594.4 L670.5,594.5 L671.2,594.6 L672.0,595.0 L672.8,595.1 L673.5,595.4 L674.2,595.7 L675.0,596.0 L675.8,596.5 L676.5,596.9 L677.2,597.2 L678.0,597.4 L678.8,597.7 L679.5,598.0 L680.2,598.1 L681.0,598.1 L681.8,598.3 L682.5,598.5 L683.2,598.6 L684.0,598.7 L684.8,599.1 L685.5,599.3 L686.2,599.9 L687.0,600.3 L687.8,600.6 L688.5,600.9 L689.2,601.1 L690.0,601.3 L690.8,601.1 L691.5,601.2 L692.2,601.5 L693.0,601.6 L693.8,601.8 L694.5,602.1 L695.2,602.6 L696.0,602.8 L696.8,603.0 L697.5,603.3 L698.2,603.5 L699.0,603.6 L699.8,603.8 L700.5,604.0 L701.2,604.1 L702.0,604.3 L702.8,604.5 L703.5,604.9 L704.2,605.2 L705.0,605.4 L705.8,605.8 L706.5,606.2 L707.2,606.4 L708.0,606.4 L708.8,606.5 L709.5,606.6 L710.2,606.8 L711.0,606.8 L711.8,606.9 L712.5,607.1 L713.2,607.3 L714.0,607.8 L714.8,608.0 L715.5,608.6 L716.2,608.9 L717.0,609.3 L717.8,609.7 L718.5,609.9 L719.2,610.1 L720.0,610.4 L720.8,610.6 L721.5,610.8 L722.2,611.0 L723.0,611.4 L723.8,612.0 L724.5,612.3 L725.2,612.7 L726.0,613.2 L726.8,613.6 L727.5,613.8 L728.2,614.2 L729.0,614.4 L729.8,614.7 L730.5,615.0 L731.2,615.3 L732.0,615.4 L732.8,615.6 L733.5,616.0 L734.2,616.5 L735.0,616.9 L735.8,617.2 L736.5,617.7 L737.2,618.1 L738.0,618.5 L738.8,618.6 L739.5,618.8 L740.2,618.9 L741.0,619.2 L741.8,619.3 L742.5,619.6 L743.2,620.2 L744.0,620.5 L744.8,621.2 L745.5,621.8 L746.2,622.2 L747.0,622.7 L747.8,623.0 L748.5,623.4 L749.2,623.6 L750.0,623.9 L750.8,624.3 L751.5,624.8 L752.2,625.4 L753.0,625.8" fill="none" stroke="#82141e" stroke-width="2.9" stroke-linejoin="round" stroke-linecap="butt"/>
<path d="M75.0,821.9 L75.8,822.6 L76.5,821.9 L77.2,822.1 L78.0,821.1 L78.8,823.5 L79.5,823.5 L80.2,820.4 L81.0,820.2 L81.8,821.2 L82.5,824.0 L83.2,824.6 L84.0,823.7 L84.8,822.7 L85.5,822.4 L86.2,824.1 L87.0,825.6 L87.8,824.5 L88.5,823.7 L89.2,824.7 L90.0,823.5 L90.8,823.3 L91.5,824.0 L92.2,822.5 L93.0,823.3 L93.8,825.4 L94.5,824.7 L95.2,823.5 L96.0,825.0 L96.8,826.2 L97.5,826.1 L98.2,827.1 L99.0,826.3 L99.8,826.0 L100.5,826.3 L101.2,825.9 L102.0,826.3 L102.8,826.6 L103.5,827.4 L104.2,827.7 L105.0,827.1 L105.8,827.0 L106.5,827.3 L107.2,827.0 L108.0,826.8 L108.8,827.5 L109.5,827.7 L110.2,827.9 L111.0,828.1 L111.8,829.5 L112.5,830.7 L113.2,830.1 L114.0,829.6 L114.8,830.9 L115.5,831.4 L116.2,830.5 L117.0,830.7 L117.8,831.0 L118.5,831.9 L119.2,832.0 L120.0,832.6 L120.8,832.6 L121.5,832.4 L122.2,832.7 L123.0,833.5 L123.8,834.1 L124.5,833.7 L125.2,834.6 L126.0,835.6 L126.8,835.2 L127.5,835.1 L128.2,835.3 L129.0,836.1 L129.8,837.1 L130.5,837.4 L131.2,837.7 L132.0,838.3 L132.8,838.8 L133.5,839.6 L134.2,840.9 L135.0,840.5 L135.8,840.3 L136.5,841.4 L137.2,842.0 L138.0,842.4 L138.8,842.8 L139.5,843.4 L140.2,844.4 L141.0,845.3 L141.8,845.8 L142.5,846.6 L143.2,847.2 L144.0,847.4 L144.8,848.3 L145.5,849.6 L146.2,850.0 L147.0,850.8 L147.8,851.9 L148.5,852.0 L149.2,852.2 L150.0,853.7 L150.8,855.0 L151.5,855.1 L152.2,855.2 L153.0,856.0 L153.8,856.9 L154.5,857.6 L155.2,858.4 L156.0,859.3 L156.8,859.9 L157.5,861.2 L158.2,862.4 L159.0,862.8 L159.8,864.3 L160.5,865.5 L161.2,866.2 L162.0,867.1 L162.8,867.8 L163.5,869.2 L164.2,870.5 L165.0,870.8 L165.8,871.7 L166.5,873.2 L167.2,874.3 L168.0,875.7 L168.8,876.9 L169.5,877.6 L170.2,878.5 L171.0,879.5 L171.8,880.6 L172.5,882.0 L173.2,883.4 L174.0,884.5 L174.8,884.6 L175.5,885.5 L176.2,886.9 L177.0,887.8 L177.8,888.6 L178.5,889.7 L179.2,890.9 L180.0,891.8 L180.8,892.4 L181.5,893.4 L182.2,894.2 L183.0,894.9 L183.8,895.7 L184.5,896.5 L185.2,897.6 L186.0,898.2 L186.8,898.9 L187.5,899.8 L188.2,900.4 L189.0,901.0 L189.8,901.4 L190.5,902.1 L191.2,903.0 L192.0,903.3 L192.8,903.3 L193.5,903.5 L194.2,904.2 L195.0,904.8 L195.8,904.9 L196.5,904.8 L197.2,904.9 L198.0,904.7 L198.8,904.7 L199.5,904.7 L200.2,904.5 L201.0,904.5 L201.8,904.6 L202.5,904.1 L203.2,903.6 L204.0,903.4 L204.8,903.1 L205.5,902.4 L206.2,902.1 L207.0,902.1 L207.8,901.5 L208.5,901.2 L209.2,900.7 L210.0,899.7 L210.8,899.1 L211.5,898.4 L212.2,897.6 L213.0,897.0 L213.8,896.3 L214.5,895.6 L215.2,895.1 L216.0,894.3 L216.8,893.5 L217.5,892.8 L218.2,892.0 L219.0,891.2 L219.8,890.4 L220.5,889.7 L221.2,888.9 L222.0,887.8 L222.8,886.9 L223.5,886.3 L224.2,885.7 L225.0,885.2 L225.8,884.5 L226.5,883.9 L227.2,883.2 L228.0,882.5 L228.8,881.8 L229.5,881.2 L230.2,880.5 L231.0,879.9 L231.8,879.6 L232.5,878.9 L233.2,878.4 L234.0,878.0 L234.8,877.7 L235.5,877.2 L236.2,876.8 L237.0,876.6 L237.8,876.1 L238.5,875.5 L239.2,875.3 L240.0,875.2 L240.8,874.7 L241.5,874.2 L242.2,874.0 L243.0,873.9 L243.8,873.6 L244.5,873.4 L245.2,873.2 L246.0,873.0 L246.8,872.9 L247.5,872.6 L248.2,872.1 L249.0,872.0 L249.8,871.9 L250.5,871.8 L251.2,871.6 L252.0,871.5 L252.8,871.5 L253.5,871.5 L254.2,871.4 L255.0,871.4 L255.8,871.5 L256.5,871.4 L257.2,871.4 L258.0,871.3 L258.8,871.5 L259.5,871.4 L260.2,871.3 L261.0,871.2 L261.8,871.3 L262.5,871.2 L263.2,871.1 L264.0,871.1 L264.8,871.2 L265.5,871.2 L266.2,871.1 L267.0,871.1 L267.8,871.1 L268.5,871.1 L269.2,871.1 L270.0,871.2 L270.8,871.3 L271.5,871.4 L272.2,871.5 L273.0,871.6 L273.8,871.5 L274.5,871.6 L275.2,871.8 L276.0,871.9 L276.8,872.1 L277.5,872.2 L278.2,872.2 L279.0,872.3 L279.8,872.4 L280.5,872.5 L281.2,872.5 L282.0,872.6 L282.8,872.8 L283.5,873.0 L284.2,873.1 L285.0,873.3 L285.8,873.6 L286.5,873.6 L287.2,873.7 L288.0,873.8 L288.8,873.9 L289.5,874.1 L290.2,874.3 L291.0,874.4 L291.8,874.5 L292.5,874.6 L293.2,874.7 L294.0,874.9 L294.8,874.9 L295.5,875.0 L296.2,875.1 L297.0,875.3 L297.8,875.5 L298.5,875.6 L299.2,875.9 L300.0,876.0 L300.8,876.3 L301.5,876.5 L302.2,876.9 L303.0,877.7 L303.8,878.4 L304.5,878.7 L305.2,878.1 L306.0,877.3 L306.8,876.6 L307.5,876.3 L308.2,876.2 L309.0,876.4 L309.8,876.7 L310.5,877.1 L311.2,877.4 L312.0,877.5 L312.8,877.7 L313.5,877.7 L314.2,878.1 L315.0,878.3 L315.8,878.5 L316.5,878.6 L317.2,878.7 L318.0,878.9 L318.8,878.9 L319.5,879.0 L320.2,879.1 L321.0,879.2 L321.8,879.2 L322.5,879.3 L323.2,879.5 L324.0,879.6 L324.8,879.6 L325.5,879.6 L326.2,879.7 L327.0,879.8 L327.8,879.8 L328.5,879.8 L329.2,879.9 L330.0,880.0 L330.8,880.0 L331.5,880.0 L332.2,880.1 L333.0,880.2 L333.8,880.3 L334.5,880.3 L335.2,880.4 L336.0,880.6 L336.8,880.6 L337.5,880.7 L338.2,880.8 L339.0,880.9 L339.8,880.8 L340.5,880.7 L341.2,880.9 L342.0,881.0 L342.8,881.0 L343.5,881.2 L344.2,881.4 L345.0,881.5 L345.8,881.7 L346.5,881.7 L347.2,881.8 L348.0,881.9 L348.8,882.0 L349.5,882.1 L350.2,882.2 L351.0,882.2 L351.8,882.3 L352.5,882.4 L353.2,882.5 L354.0,882.7 L354.8,882.9 L355.5,883.1 L356.2,883.4 L357.0,883.5 L357.8,883.6 L358.5,883.7 L359.2,883.8 L360.0,883.9 L360.8,884.1 L361.5,884.3 L362.2,884.5 L363.0,884.8 L363.8,885.0 L364.5,885.3 L365.2,885.5 L366.0,885.7 L366.8,886.0 L367.5,886.1 L368.2,886.5 L369.0,886.8 L369.8,887.2 L370.5,887.5 L371.2,887.7 L372.0,888.0 L372.8,888.2 L373.5,888.5 L374.2,888.8 L375.0,889.2 L375.8,889.6 L376.5,890.0 L377.2,890.4 L378.0,890.7 L378.8,891.1 L379.5,891.4 L380.2,891.6 L381.0,892.0 L381.8,892.4 L382.5,892.8 L383.2,893.1 L384.0,893.4 L384.8,893.8 L385.5,894.2 L386.2,894.4 L387.0,894.9 L387.8,895.4 L388.5,895.9 L389.2,896.3 L390.0,896.7 L390.8,897.1 L391.5,897.5 L392.2,897.9 L393.0,898.1 L393.8,898.7 L394.5,899.0 L395.2,899.4 L396.0,899.8 L396.8,900.3 L397.5,900.7 L398.2,901.0 L399.0,901.5 L399.8,901.9 L400.5,902.2 L401.2,902.6 L402.0,902.9 L402.8,903.3 L403.5,903.6 L404.2,904.0 L405.0,904.3 L405.8,904.7 L406.5,905.2 L407.2,905.7 L408.0,906.0 L408.8,906.5 L409.5,906.9 L410.2,907.3 L411.0,907.6 L411.8,908.0 L412.5,908.5 L413.2,909.0 L414.0,909.4 L414.8,909.9 L415.5,910.3 L416.2,910.6 L417.0,911.0 L417.8,911.2 L418.5,911.5 L419.2,912.0 L420.0,912.3 L420.8,912.6 L421.5,912.9 L422.2,913.1 L423.0,913.3 L423.8,913.6 L424.5,913.9 L425.2,914.0 L426.0,914.3 L426.8,914.6 L427.5,914.8 L428.2,914.9 L429.0,915.0 L429.8,915.2 L430.5,915.2 L431.2,915.2 L432.0,915.1 L432.8,915.1 L433.5,915.1 L434.2,915.0 L435.0,914.9 L435.8,914.9 L436.5,914.8 L437.2,914.6 L438.0,914.5 L438.8,914.4 L439.5,914.2 L440.2,913.8 L441.0,913.6 L441.8,913.4 L442.5,913.1 L443.2,912.8 L444.0,912.5 L444.8,912.3 L445.5,912.0 L446.2,911.8 L447.0,911.4 L447.8,911.1 L448.5,910.8 L449.2,910.4 L450.0,910.1 L450.8,909.7 L451.5,909.4 L452.2,909.1 L453.0,909.0 L453.8,908.9 L454.5,908.7 L455.2,908.5 L456.0,908.3 L456.8,908.2 L457.5,908.0 L458.2,907.8 L459.0,907.7 L459.8,907.5 L460.5,907.3 L461.2,907.1 L462.0,907.0 L462.8,906.9 L463.5,906.8 L464.2,906.8 L465.0,906.8 L465.8,906.8 L466.5,906.7 L467.2,906.6 L468.0,906.6 L468.8,906.5 L469.5,906.5 L470.2,906.6 L471.0,906.5 L471.8,906.5 L472.5,906.5 L473.2,906.5 L474.0,906.5 L474.8,906.4 L475.5,906.5 L476.2,906.5 L477.0,906.4 L477.8,906.4 L478.5,906.4 L479.2,906.4 L480.0,906.4 L480.8,906.5 L481.5,906.5 L482.2,906.5 L483.0,906.5 L483.8,906.5 L484.5,906.4 L485.2,906.5 L486.0,906.6 L486.8,906.6 L487.5,906.8 L488.2,907.0 L489.0,907.1 L489.8,907.4 L490.5,907.6 L491.2,907.8 L492.0,908.0 L492.8,908.2 L493.5,908.4 L494.2,908.7 L495.0,908.8 L495.8,909.0 L496.5,909.2 L497.2,909.4 L498.0,909.6 L498.8,909.7 L499.5,910.1 L500.2,910.3 L501.0,910.5 L501.8,910.9 L502.5,911.1 L503.2,911.3 L504.0,911.5 L504.8,911.8 L505.5,912.1 L506.2,912.4 L507.0,912.7 L507.8,913.1 L508.5,913.3 L509.2,913.5 L510.0,913.7 L510.8,913.9 L511.5,914.1 L512.2,914.3 L513.0,914.4 L513.8,914.8 L514.5,915.1 L515.2,915.2 L516.0,915.4 L516.8,915.5 L517.5,915.8 L518.2,915.9 L519.0,915.9 L519.8,916.1 L520.5,916.2 L521.2,916.2 L522.0,916.3 L522.8,916.3 L523.5,916.4 L524.2,916.5 L525.0,916.6 L525.8,916.7 L526.5,916.7 L527.2,916.8 L528.0,916.8 L528.8,916.8 L529.5,916.7 L530.2,916.7 L531.0,916.7 L531.8,916.6 L532.5,916.6 L533.2,916.5 L534.0,916.6 L534.8,916.5 L535.5,916.3 L536.2,916.3 L537.0,916.4 L537.8,916.4 L538.5,916.3 L539.2,916.4 L540.0,916.3 L540.8,916.4 L541.5,916.3 L542.2,916.3 L543.0,916.3 L543.8,916.3 L544.5,916.4 L545.2,916.3 L546.0,916.3 L546.8,916.3 L547.5,916.2 L548.2,916.2 L549.0,916.1 L549.8,916.0 L550.5,916.0 L551.2,915.8 L552.0,915.7 L552.8,915.6 L553.5,915.5 L554.2,915.6 L555.0,915.3 L555.8,915.3 L556.5,915.3 L557.2,915.2 L558.0,915.1 L558.8,914.9 L559.5,915.1 L560.2,914.9 L561.0,914.8 L561.8,914.8 L562.5,914.9 L563.2,914.8 L564.0,914.5 L564.8,914.6 L565.5,914.6 L566.2,914.6 L567.0,914.4 L567.8,914.4 L568.5,914.4 L569.2,914.4 L570.0,914.4 L570.8,914.2 L571.5,914.1 L572.2,914.2 L573.0,914.1 L573.8,913.9 L574.5,913.8 L575.2,913.9 L576.0,913.9 L576.8,913.7 L577.5,913.7 L578.2,913.7 L579.0,913.7 L579.8,913.7 L580.5,913.7 L581.2,913.7 L582.0,913.7 L582.8,913.8 L583.5,913.7 L584.2,913.8 L585.0,913.9 L585.8,914.0 L586.5,913.9 L587.2,914.0 L588.0,914.1 L588.8,914.1 L589.5,914.1 L590.2,914.2 L591.0,914.2 L591.8,914.2 L592.5,914.1 L593.2,914.0 L594.0,914.1 L594.8,914.2 L595.5,914.3 L596.2,914.3 L597.0,914.5 L597.8,914.6 L598.5,914.7 L599.2,914.7 L600.0,914.7 L600.8,914.8 L601.5,914.8 L602.2,914.8 L603.0,914.8 L603.8,914.9 L604.5,915.1 L605.2,915.3 L606.0,915.5 L606.8,915.6 L607.5,915.9 L608.2,915.9 L609.0,916.1 L609.8,916.2 L610.5,916.3 L611.2,916.4 L612.0,916.6 L612.8,916.7 L613.5,916.9 L614.2,917.1 L615.0,917.2 L615.8,917.4 L616.5,917.4 L617.2,917.5 L618.0,917.6 L618.8,917.6 L619.5,917.7 L620.2,917.9 L621.0,918.2 L621.8,918.3 L622.5,918.4 L623.2,918.7 L624.0,918.8 L624.8,918.9 L625.5,919.2 L626.2,919.4 L627.0,919.6 L627.8,919.7 L628.5,919.9 L629.2,920.0 L630.0,920.1 L630.8,920.2 L631.5,920.3 L632.2,920.5 L633.0,920.8 L633.8,920.8 L634.5,920.9 L635.2,921.0 L636.0,921.2 L636.8,921.2 L637.5,921.3 L638.2,921.5 L639.0,921.6 L639.8,921.8 L640.5,921.9 L641.2,921.9 L642.0,922.0 L642.8,922.2 L643.5,922.4 L644.2,922.4 L645.0,922.4 L645.8,922.5 L646.5,922.6 L647.2,922.7 L648.0,922.7 L648.8,922.8 L649.5,923.0 L650.2,923.1 L651.0,923.2 L651.8,923.2 L652.5,923.3 L653.2,923.4 L654.0,923.4 L654.8,923.4 L655.5,923.5 L656.2,923.6 L657.0,923.8 L657.8,923.9 L658.5,924.0 L659.2,924.1 L660.0,924.1 L660.8,924.1 L661.5,924.2 L662.2,924.2 L663.0,924.3 L663.8,924.3 L664.5,924.4 L665.2,924.5 L666.0,924.5 L666.8,924.5 L667.5,924.5 L668.2,924.5 L669.0,924.5 L669.8,924.5 L670.5,924.5 L671.2,924.5 L672.0,924.5 L672.8,924.4 L673.5,924.4 L674.2,924.5 L675.0,924.5 L675.8,924.5 L676.5,924.5 L677.2,924.7 L678.0,924.7 L678.8,924.6 L679.5,924.7 L680.2,924.7 L681.0,924.9 L681.8,924.9 L682.5,924.9 L683.2,924.8 L684.0,924.9 L684.8,924.9 L685.5,924.9 L686.2,924.9 L687.0,924.9 L687.8,925.0 L688.5,925.0 L689.2,925.0 L690.0,925.0 L690.8,925.0 L691.5,925.1 L692.2,925.1 L693.0,925.1 L693.8,925.2 L694.5,925.4 L695.2,925.4 L696.0,925.5 L696.8,925.5 L697.5,925.7 L698.2,925.7 L699.0,925.7 L699.8,925.8 L700.5,925.9 L701.2,926.1 L702.0,926.1 L702.8,926.3 L703.5,926.4 L704.2,926.7 L705.0,926.9 L705.8,927.0 L706.5,927.1 L707.2,927.1 L708.0,927.4 L708.8,927.4 L709.5,927.5 L710.2,927.5 L711.0,927.7 L711.8,927.9 L712.5,928.0 L713.2,928.2 L714.0,928.3 L714.8,928.4 L715.5,928.6 L716.2,928.8 L717.0,929.0 L717.8,929.2 L718.5,929.4 L719.2,929.5 L720.0,929.6 L720.8,929.8 L721.5,929.8 L722.2,930.0 L723.0,930.1 L723.8,930.2 L724.5,930.5 L725.2,930.6 L726.0,930.9 L726.8,931.0 L727.5,931.2 L728.2,931.5 L729.0,931.6 L729.8,931.9 L730.5,932.0 L731.2,932.1 L732.0,932.4 L732.8,932.6 L733.5,932.7 L734.2,932.8 L735.0,932.9 L735.8,933.2 L736.5,933.3 L737.2,933.3 L738.0,933.5 L738.8,933.7 L739.5,933.9 L740.2,934.1 L741.0,934.3 L741.8,934.5 L742.5,934.6 L743.2,934.7 L744.0,934.7 L744.8,934.7 L745.5,934.7 L746.2,934.8 L747.0,935.0 L747.8,935.3 L748.5,935.5 L749.2,935.6 L750.0,935.9 L750.8,935.9 L751.5,936.0 L752.2,935.9 L753.0,936.1" fill="none" stroke="#5ea7e0" stroke-width="3.0" stroke-linejoin="round" stroke-linecap="butt"/>
<path d="M75.0,1075.0 L75.8,1076.3 L76.5,1076.6 L77.2,1078.3 L78.0,1078.4 L78.8,1078.1 L79.5,1077.6 L80.2,1077.1 L81.0,1078.5 L81.8,1080.2 L82.5,1081.1 L83.2,1081.8 L84.0,1081.6 L84.8,1080.6 L85.5,1081.4 L86.2,1081.5 L87.0,1081.4 L87.8,1081.1 L88.5,1082.4 L89.2,1082.6 L90.0,1082.4 L90.8,1082.2 L91.5,1082.9 L92.2,1084.0 L93.0,1084.5 L93.8,1084.4 L94.5,1083.9 L95.2,1085.6 L96.0,1086.0 L96.8,1085.5 L97.5,1086.3 L98.2,1085.3 L99.0,1086.1 L99.8,1088.0 L100.5,1087.3 L101.2,1087.8 L102.0,1088.5 L102.8,1088.9 L103.5,1089.9 L104.2,1090.3 L105.0,1091.2 L105.8,1091.2 L106.5,1090.5 L107.2,1092.3 L108.0,1091.2 L108.8,1090.2 L109.5,1092.5 L110.2,1093.7 L111.0,1094.3 L111.8,1095.3 L112.5,1095.0 L113.2,1094.2 L114.0,1093.7 L114.8,1095.2 L115.5,1097.0 L116.2,1097.6 L117.0,1098.6 L117.8,1098.3 L118.5,1099.4 L119.2,1101.3 L120.0,1101.6 L120.8,1101.5 L121.5,1101.4 L122.2,1102.1 L123.0,1102.7 L123.8,1103.4 L124.5,1104.3 L125.2,1105.2 L126.0,1105.6 L126.8,1106.3 L127.5,1107.3 L128.2,1108.4 L129.0,1106.9 L129.8,1107.6 L130.5,1109.4 L131.2,1110.8 L132.0,1110.8 L132.8,1110.9 L133.5,1111.4 L134.2,1112.2 L135.0,1112.6 L135.8,1112.2 L136.5,1112.6 L137.2,1113.3 L138.0,1113.7 L138.8,1113.1 L139.5,1114.0 L140.2,1115.0 L141.0,1115.3 L141.8,1116.1 L142.5,1116.3 L143.2,1116.8 L144.0,1115.8 L144.8,1115.3 L145.5,1115.1 L146.2,1116.3 L147.0,1117.5 L147.8,1117.3 L148.5,1116.7 L149.2,1115.1 L150.0,1115.9 L150.8,1116.8 L151.5,1116.1 L152.2,1115.6 L153.0,1115.6 L153.8,1115.9 L154.5,1115.1 L155.2,1115.1 L156.0,1115.0 L156.8,1114.0 L157.5,1114.9 L158.2,1115.1 L159.0,1114.1 L159.8,1112.4 L160.5,1112.3 L161.2,1112.9 L162.0,1113.0 L162.8,1112.1 L163.5,1111.3 L164.2,1111.0 L165.0,1111.2 L165.8,1111.6 L166.5,1111.6 L167.2,1110.8 L168.0,1110.6 L168.8,1110.8 L169.5,1110.2 L170.2,1109.5 L171.0,1110.1 L171.8,1109.9 L172.5,1109.2 L173.2,1109.0 L174.0,1108.5 L174.8,1108.3 L175.5,1108.0 L176.2,1109.0 L177.0,1109.5 L177.8,1109.4 L178.5,1109.1 L179.2,1108.5 L180.0,1107.9 L180.8,1107.6 L181.5,1108.3 L182.2,1108.2 L183.0,1108.2 L183.8,1107.8 L184.5,1106.7 L185.2,1106.9 L186.0,1107.0 L186.8,1107.4 L187.5,1108.0 L188.2,1108.5 L189.0,1108.0 L189.8,1108.7 L190.5,1108.8 L191.2,1108.3 L192.0,1108.5 L192.8,1109.0 L193.5,1108.5 L194.2,1108.8 L195.0,1108.3 L195.8,1108.5 L196.5,1108.8 L197.2,1109.6 L198.0,1109.5 L198.8,1109.5 L199.5,1109.8 L200.2,1110.1 L201.0,1110.1 L201.8,1110.4 L202.5,1110.7 L203.2,1110.0 L204.0,1110.2 L204.8,1110.2 L205.5,1110.3 L206.2,1111.0 L207.0,1111.4 L207.8,1111.4 L208.5,1111.6 L209.2,1112.4 L210.0,1112.5 L210.8,1112.8 L211.5,1112.7 L212.2,1112.3 L213.0,1112.2 L213.8,1112.3 L214.5,1113.2 L215.2,1113.3 L216.0,1113.8 L216.8,1113.9 L217.5,1113.2 L218.2,1113.5 L219.0,1114.0 L219.8,1114.6 L220.5,1114.3 L221.2,1114.4 L222.0,1114.9 L222.8,1115.5 L223.5,1116.1 L224.2,1115.5 L225.0,1115.5 L225.8,1115.6 L226.5,1115.5 L227.2,1116.0 L228.0,1116.3 L228.8,1116.8 L229.5,1117.2 L230.2,1117.0 L231.0,1117.6 L231.8,1118.0 L232.5,1117.5 L233.2,1118.0 L234.0,1117.8 L234.8,1117.8 L235.5,1118.5 L236.2,1118.9 L237.0,1119.2 L237.8,1119.2 L238.5,1119.5 L239.2,1119.8 L240.0,1119.7 L240.8,1119.4 L241.5,1119.7 L242.2,1120.0 L243.0,1120.6 L243.8,1120.5 L244.5,1120.9 L245.2,1121.4 L246.0,1121.6 L246.8,1121.4 L247.5,1122.2 L248.2,1122.8 L249.0,1122.8 L249.8,1123.2 L250.5,1123.4 L251.2,1123.3 L252.0,1123.0 L252.8,1123.5 L253.5,1123.4 L254.2,1123.3 L255.0,1124.4 L255.8,1124.7 L256.5,1125.0 L257.2,1125.7 L258.0,1126.0 L258.8,1126.2 L259.5,1126.5 L260.2,1126.8 L261.0,1126.8 L261.8,1127.2 L262.5,1127.4 L263.2,1127.4 L264.0,1126.9 L264.8,1127.3 L265.5,1128.2 L266.2,1128.3 L267.0,1128.4 L267.8,1128.5 L268.5,1128.9 L269.2,1128.9 L270.0,1128.9 L270.8,1129.4 L271.5,1130.4 L272.2,1130.4 L273.0,1130.3 L273.8,1130.1 L274.5,1130.7 L275.2,1131.2 L276.0,1130.9 L276.8,1130.7 L277.5,1130.9 L278.2,1131.5 L279.0,1131.5 L279.8,1131.6 L280.5,1131.9 L281.2,1132.1 L282.0,1131.7 L282.8,1131.6 L283.5,1131.3 L284.2,1131.7 L285.0,1132.5 L285.8,1132.7 L286.5,1132.6 L287.2,1132.9 L288.0,1132.9 L288.8,1133.0 L289.5,1132.8 L290.2,1133.1 L291.0,1133.5 L291.8,1133.8 L292.5,1133.4 L293.2,1133.2 L294.0,1133.0 L294.8,1133.2 L295.5,1133.4 L296.2,1133.5 L297.0,1133.7 L297.8,1133.8 L298.5,1133.5 L299.2,1133.6 L300.0,1133.6 L300.8,1133.3 L301.5,1133.2 L302.2,1133.0 L303.0,1133.0 L303.8,1133.1 L304.5,1132.9 L305.2,1133.1 L306.0,1133.2 L306.8,1133.3 L307.5,1132.9 L308.2,1132.9 L309.0,1133.0 L309.8,1132.9 L310.5,1132.9 L311.2,1133.1 L312.0,1132.7 L312.8,1132.8 L313.5,1132.4 L314.2,1132.6 L315.0,1132.6 L315.8,1132.9 L316.5,1133.0 L317.2,1132.8 L318.0,1132.5 L318.8,1132.4 L319.5,1131.8 L320.2,1132.0 L321.0,1131.9 L321.8,1132.4 L322.5,1132.6 L323.2,1132.5 L324.0,1132.7 L324.8,1132.5 L325.5,1132.2 L326.2,1131.6 L327.0,1131.8 L327.8,1132.0 L328.5,1132.4 L329.2,1132.1 L330.0,1131.9 L330.8,1132.1 L331.5,1132.5 L332.2,1132.9 L333.0,1132.4 L333.8,1132.1 L334.5,1131.9 L335.2,1131.8 L336.0,1132.4 L336.8,1132.6 L337.5,1132.5 L338.2,1132.7 L339.0,1132.4 L339.8,1132.4 L340.5,1132.3 L341.2,1132.1 L342.0,1132.4 L342.8,1132.6 L343.5,1132.8 L344.2,1132.7 L345.0,1132.5 L345.8,1132.5 L346.5,1133.0 L347.2,1132.9 L348.0,1132.9 L348.8,1132.5 L349.5,1132.6 L350.2,1132.7 L351.0,1132.8 L351.8,1132.8 L352.5,1132.8 L353.2,1133.3 L354.0,1133.0 L354.8,1133.2 L355.5,1133.5 L356.2,1133.7 L357.0,1133.4 L357.8,1133.4 L358.5,1133.7 L359.2,1134.0 L360.0,1134.2 L360.8,1134.6 L361.5,1134.8 L362.2,1134.6 L363.0,1134.5 L363.8,1134.4 L364.5,1134.6 L365.2,1135.1 L366.0,1135.4 L366.8,1135.7 L367.5,1135.8 L368.2,1135.8 L369.0,1135.9 L369.8,1135.8 L370.5,1135.7 L371.2,1136.2 L372.0,1136.5 L372.8,1136.9 L373.5,1137.1 L374.2,1137.5 L375.0,1138.0 L375.8,1138.0 L376.5,1138.0 L377.2,1138.1 L378.0,1138.9 L378.8,1139.0 L379.5,1139.4 L380.2,1139.5 L381.0,1139.8 L381.8,1140.2 L382.5,1140.8 L383.2,1141.0 L384.0,1141.4 L384.8,1141.7 L385.5,1141.8 L386.2,1142.3 L387.0,1142.5 L387.8,1143.2 L388.5,1143.1 L389.2,1143.4 L390.0,1143.5 L390.8,1144.0 L391.5,1144.6 L392.2,1144.9 L393.0,1145.3 L393.8,1145.2 L394.5,1145.6 L395.2,1146.1 L396.0,1146.4 L396.8,1146.6 L397.5,1146.9 L398.2,1147.0 L399.0,1146.9 L399.8,1146.8 L400.5,1147.3 L401.2,1148.0 L402.0,1148.4 L402.8,1148.4 L403.5,1148.4 L404.2,1148.8 L405.0,1149.2 L405.8,1149.5 L406.5,1149.6 L407.2,1149.7 L408.0,1150.2 L408.8,1150.4 L409.5,1151.0 L410.2,1151.0 L411.0,1151.1 L411.8,1151.3 L412.5,1151.7 L413.2,1152.2 L414.0,1152.5 L414.8,1152.9 L415.5,1153.4 L416.2,1153.6 L417.0,1153.5 L417.8,1153.8 L418.5,1154.1 L419.2,1154.7 L420.0,1154.9 L420.8,1154.9 L421.5,1154.8 L422.2,1154.9 L423.0,1154.9 L423.8,1154.9 L424.5,1155.1 L425.2,1155.6 L426.0,1155.7 L426.8,1155.8 L427.5,1155.8 L428.2,1155.8 L429.0,1156.1 L429.8,1155.9 L430.5,1156.1 L431.2,1156.0 L432.0,1156.3 L432.8,1156.4 L433.5,1156.4 L434.2,1156.5 L435.0,1156.6 L435.8,1156.2 L436.5,1156.3 L437.2,1156.3 L438.0,1156.4 L438.8,1156.4 L439.5,1156.4 L440.2,1156.4 L441.0,1156.2 L441.8,1155.9 L442.5,1155.6 L443.2,1155.4 L444.0,1155.3 L444.8,1155.4 L445.5,1155.3 L446.2,1155.5 L447.0,1155.0 L447.8,1154.9 L448.5,1154.9 L449.2,1154.9 L450.0,1154.8 L450.8,1154.3 L451.5,1154.5 L452.2,1154.1 L453.0,1154.0 L453.8,1153.6 L454.5,1153.6 L455.2,1153.9 L456.0,1153.7 L456.8,1153.8 L457.5,1153.5 L458.2,1154.0 L459.0,1154.1 L459.8,1154.5 L460.5,1153.9 L461.2,1153.9 L462.0,1153.4 L462.8,1153.6 L463.5,1153.6 L464.2,1153.5 L465.0,1153.2 L465.8,1153.0 L466.5,1153.1 L467.2,1153.1 L468.0,1153.2 L468.8,1153.3 L469.5,1153.5 L470.2,1153.8 L471.0,1153.9 L471.8,1153.7 L472.5,1153.7 L473.2,1154.1 L474.0,1154.1 L474.8,1154.4 L475.5,1154.8 L476.2,1155.0 L477.0,1154.9 L477.8,1155.3 L478.5,1155.6 L479.2,1155.7 L480.0,1155.4 L480.8,1155.4 L481.5,1155.5 L482.2,1155.8 L483.0,1155.9 L483.8,1156.1 L484.5,1156.1 L485.2,1156.1 L486.0,1156.4 L486.8,1156.4 L487.5,1157.3 L488.2,1157.9 L489.0,1158.6 L489.8,1158.6 L490.5,1158.8 L491.2,1159.1 L492.0,1159.5 L492.8,1159.8 L493.5,1159.7 L494.2,1159.9 L495.0,1160.0 L495.8,1160.2 L496.5,1160.1 L497.2,1160.6 L498.0,1161.2 L498.8,1161.5 L499.5,1162.0 L500.2,1162.4 L501.0,1162.8 L501.8,1162.8 L502.5,1162.8 L503.2,1163.3 L504.0,1163.6 L504.8,1163.8 L505.5,1163.9 L506.2,1163.9 L507.0,1164.4 L507.8,1164.8 L508.5,1165.5 L509.2,1166.0 L510.0,1166.2 L510.8,1166.5 L511.5,1166.7 L512.2,1166.8 L513.0,1166.9 L513.8,1167.2 L514.5,1167.8 L515.2,1168.4 L516.0,1168.8 L516.8,1168.7 L517.5,1168.6 L518.2,1168.8 L519.0,1169.5 L519.8,1170.0 L520.5,1170.3 L521.2,1170.2 L522.0,1170.6 L522.8,1170.9 L523.5,1171.3 L524.2,1171.5 L525.0,1171.9 L525.8,1172.1 L526.5,1172.6 L527.2,1172.8 L528.0,1173.1 L528.8,1173.2 L529.5,1173.2 L530.2,1173.3 L531.0,1173.3 L531.8,1173.3 L532.5,1173.8 L533.2,1174.1 L534.0,1174.5 L534.8,1174.7 L535.5,1174.4 L536.2,1174.6 L537.0,1174.3 L537.8,1175.1 L538.5,1175.1 L539.2,1175.6 L540.0,1175.9 L540.8,1175.9 L541.5,1176.1 L542.2,1176.0 L543.0,1176.2 L543.8,1176.4 L544.5,1176.5 L545.2,1176.9 L546.0,1176.8 L546.8,1177.5 L547.5,1177.7 L548.2,1177.6 L549.0,1177.0 L549.8,1177.2 L550.5,1177.5 L551.2,1177.8 L552.0,1177.9 L552.8,1178.1 L553.5,1178.2 L554.2,1178.2 L555.0,1178.1 L555.8,1178.2 L556.5,1178.7 L557.2,1179.1 L558.0,1179.2 L558.8,1179.2 L559.5,1179.3 L560.2,1179.7 L561.0,1179.7 L561.8,1179.9 L562.5,1179.8 L563.2,1179.8 L564.0,1179.9 L564.8,1179.9 L565.5,1180.1 L566.2,1180.3 L567.0,1180.5 L567.8,1180.9 L568.5,1180.8 L569.2,1180.8 L570.0,1181.1 L570.8,1181.1 L571.5,1181.1 L572.2,1181.0 L573.0,1181.3 L573.8,1181.4 L574.5,1181.4 L575.2,1181.6 L576.0,1181.8 L576.8,1181.8 L577.5,1181.9 L578.2,1181.8 L579.0,1181.9 L579.8,1181.9 L580.5,1181.9 L581.2,1182.2 L582.0,1182.6 L582.8,1183.1 L583.5,1183.3 L584.2,1183.0 L585.0,1183.1 L585.8,1182.9 L586.5,1183.2 L587.2,1183.4 L588.0,1183.5 L588.8,1183.8 L589.5,1183.6 L590.2,1183.9 L591.0,1183.8 L591.8,1184.0 L592.5,1184.1 L593.2,1184.6 L594.0,1184.9 L594.8,1184.8 L595.5,1184.8 L596.2,1184.7 L597.0,1184.9 L597.8,1185.0 L598.5,1185.2 L599.2,1185.5 L600.0,1185.6 L600.8,1185.7 L601.5,1186.0 L602.2,1186.3 L603.0,1186.4 L603.8,1186.7 L604.5,1187.4 L605.2,1187.5 L606.0,1187.2 L606.8,1187.3 L607.5,1187.5 L608.2,1187.9 L609.0,1188.0 L609.8,1188.5 L610.5,1188.4 L611.2,1188.3 L612.0,1188.2 L612.8,1189.0 L613.5,1189.6 L614.2,1189.7 L615.0,1189.9 L615.8,1190.2 L616.5,1190.7 L617.2,1190.8 L618.0,1191.0 L618.8,1191.4 L619.5,1191.7 L620.2,1191.9 L621.0,1192.0 L621.8,1192.1 L622.5,1192.1 L623.2,1192.4 L624.0,1192.6 L624.8,1193.0 L625.5,1193.3 L626.2,1193.7 L627.0,1194.0 L627.8,1193.8 L628.5,1194.1 L629.2,1194.1 L630.0,1194.4 L630.8,1194.4 L631.5,1194.9 L632.2,1195.4 L633.0,1195.6 L633.8,1195.5 L634.5,1195.5 L635.2,1195.8 L636.0,1196.5 L636.8,1196.4 L637.5,1196.4 L638.2,1196.3 L639.0,1196.7 L639.8,1197.2 L640.5,1197.6 L641.2,1198.1 L642.0,1198.2 L642.8,1198.2 L643.5,1197.7 L644.2,1198.0 L645.0,1198.4 L645.8,1198.8 L646.5,1199.1 L647.2,1199.1 L648.0,1199.5 L648.8,1199.5 L649.5,1199.4 L650.2,1199.2 L651.0,1199.0 L651.8,1199.0 L652.5,1199.2 L653.2,1199.7 L654.0,1200.4 L654.8,1200.4 L655.5,1200.3 L656.2,1199.9 L657.0,1200.2 L657.8,1200.4 L658.5,1200.5 L659.2,1200.5 L660.0,1200.6 L660.8,1200.5 L661.5,1200.6 L662.2,1200.6 L663.0,1200.9 L663.8,1200.7 L664.5,1201.0 L665.2,1201.4 L666.0,1201.8 L666.8,1201.4 L667.5,1201.1 L668.2,1201.0 L669.0,1201.0 L669.8,1201.1 L670.5,1200.7 L671.2,1201.2 L672.0,1201.6 L672.8,1201.9 L673.5,1201.7 L674.2,1201.5 L675.0,1201.4 L675.8,1201.5 L676.5,1201.5 L677.2,1201.8 L678.0,1201.7 L678.8,1201.7 L679.5,1201.8 L680.2,1201.9 L681.0,1202.2 L681.8,1202.0 L682.5,1201.7 L683.2,1201.7 L684.0,1201.6 L684.8,1202.2 L685.5,1201.9 L686.2,1201.9 L687.0,1201.8 L687.8,1202.2 L688.5,1202.6 L689.2,1202.4 L690.0,1202.5 L690.8,1202.3 L691.5,1202.5 L692.2,1202.3 L693.0,1202.6 L693.8,1202.8 L694.5,1202.9 L695.2,1203.2 L696.0,1203.2 L696.8,1203.1 L697.5,1203.0 L698.2,1202.9 L699.0,1203.2 L699.8,1203.5 L700.5,1203.4 L701.2,1203.7 L702.0,1203.9 L702.8,1204.3 L703.5,1204.1 L704.2,1204.1 L705.0,1204.2 L705.8,1204.7 L706.5,1204.8 L707.2,1205.2 L708.0,1205.2 L708.8,1205.6 L709.5,1205.2 L710.2,1205.3 L711.0,1205.3 L711.8,1205.6 L712.5,1206.0 L713.2,1206.0 L714.0,1206.4 L714.8,1206.3 L715.5,1206.6 L716.2,1206.8 L717.0,1207.2 L717.8,1207.4 L718.5,1207.9 L719.2,1208.1 L720.0,1208.2 L720.8,1208.2 L721.5,1208.6 L722.2,1209.1 L723.0,1209.5 L723.8,1209.4 L724.5,1209.6 L725.2,1209.7 L726.0,1210.0 L726.8,1210.1 L727.5,1209.6 L728.2,1209.8 L729.0,1210.2 L729.8,1210.6 L730.5,1210.9 L731.2,1210.8 L732.0,1211.4 L732.8,1212.0 L733.5,1211.9 L734.2,1212.0 L735.0,1212.1 L735.8,1212.4 L736.5,1212.5 L737.2,1212.9 L738.0,1213.5 L738.8,1213.8 L739.5,1213.3 L740.2,1213.2 L741.0,1213.4 L741.8,1214.0 L742.5,1214.1 L743.2,1214.8 L744.0,1214.9 L744.8,1215.0 L745.5,1214.7 L746.2,1214.9 L747.0,1215.1 L747.8,1215.3 L748.5,1215.6 L749.2,1215.8 L750.0,1215.8 L750.8,1215.8 L751.5,1216.1 L752.2,1216.3 L753.0,1216.7" fill="none" stroke="#cb8894" stroke-width="2.9" stroke-linejoin="round" stroke-linecap="butt"/>
<text x="381.0" y="171.8" font-size="39.2" fill="#25589b" style="stroke:#25589b">A</text>
<text x="620.2" y="219.4" font-size="39.2" fill="#25589b" style="stroke:#25589b">B</text>
<text transform="translate(638.8 300.0) scale(1.0 1)" font-size="34.4" fill="#25589b" style="stroke:#25589b">WS<tspan dy="12.7" dx="2.6" font-size="22.0">2</tspan></text>
<text x="318.9" y="503.2" font-size="39.2" fill="#82141e" style="stroke:#82141e">A</text>
<text x="423.5" y="520.8" font-size="39.2" fill="#82141e" style="stroke:#82141e">B</text>
<text transform="translate(640.3 568.2) scale(1.035 1)" font-size="34.4" fill="#82141e" style="stroke:#82141e">MoS<tspan dy="12.7" dx="1.2" font-size="22.0">2</tspan></text>
<text x="182.2" y="848.2" font-size="39.2" fill="#5ea7e0" style="stroke:#5ea7e0">A</text>
<text x="416.9" y="874.8" font-size="39.2" fill="#5ea7e0" style="stroke:#5ea7e0">B</text>
<text transform="translate(641.0 898.1) scale(1.012 1)" font-size="34.4" fill="#5ea7e0" style="stroke:#5ea7e0">WSe<tspan dy="12.7" dx="2.6" font-size="22.0">2</tspan></text>
<text x="132.6" y="1090.5" font-size="39.2" fill="#cb8894" style="stroke:#cb8894">A</text>
<text x="283.3" y="1111.5" font-size="39.2" fill="#cb8894" style="stroke:#cb8894">B</text>
<text transform="translate(639.7 1186.5) scale(1.04 1)" font-size="34.4" fill="#cb8894" style="stroke:#cb8894">MoSe<tspan dy="12.7" dx="2.0" font-size="22.0">2</tspan></text>
<g fill="none" stroke="#000" stroke-width="2.35">
<path d="M117.2,148.2 C130.2,180.6 141.5,197.4 157,197.4 C173,197.4 185.2,180 198.8,147.2"/>
<path d="M104.2,329.6 Q130.6,271.8 157,271.8 Q184.8,271.8 212.6,330.4"/>
<path d="M117.4,329.4 Q136.8,279.8 156.2,279.8 Q177.1,279.8 198,328.8"/>
<path d="M152.2,280.5V208" stroke-width="3.0"/><path d="M160.8,272.6V208" stroke-width="2.7"/>
</g>
<path d="M152.2,200l3.8,12.6l-3.8,-1.8l-3.8,1.8z M160.8,200l3.8,12.6l-3.8,-1.8l-3.8,1.8z" fill="#000"/>
<text x="123.9" y="247.8" font-size="33.4">B</text>
<text x="169.2" y="247.8" font-size="33.4">A</text>
<text x="206.6" y="178.8" font-size="21.6">conduction</text>
<text x="206.3" y="197.5" font-size="21.6">band</text>
<text x="207.4" y="288.0" font-size="21.6">valence</text>
<text x="206.3" y="307.0" font-size="21.6">band</text>
<text x="122.6" y="342.7" font-size="21.6">K-point</text>
<text x="92.4" y="361.4" font-size="21.6">Brillouin zone</text>
</svg>
</body>
</html>
